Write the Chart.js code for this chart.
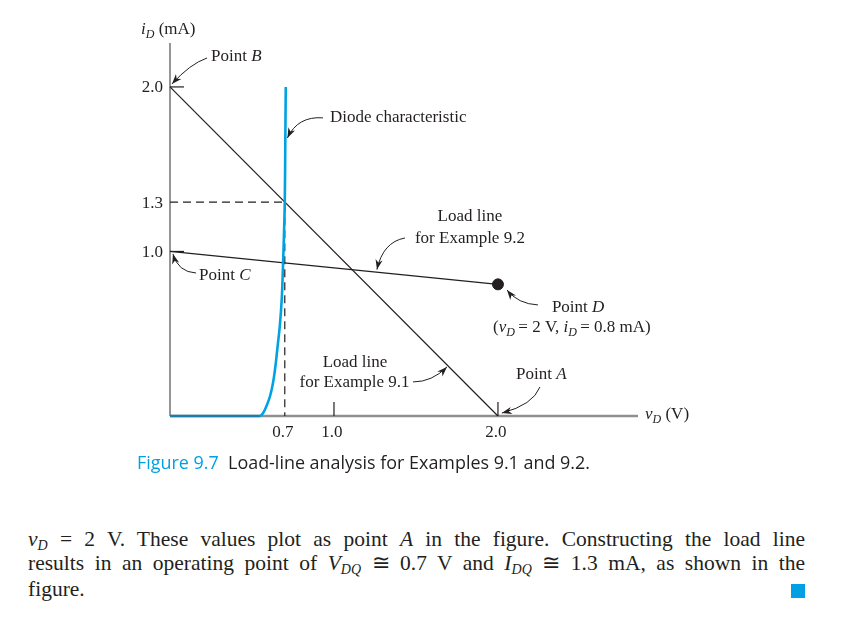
<!DOCTYPE html>
<html>
<head>
<meta charset="utf-8">
<script src="https://cdn.jsdelivr.net/npm/chart.js@4.4.1/dist/chart.umd.min.js"></script>
<style>
    html, body { margin: 0; padding: 0; background: #fff; }
    body {
        width: 844px; height: 622px; position: relative; overflow: hidden;
        font-family: "Liberation Serif", "Times New Roman", serif; color: #231f20;
    }
    #chart { position: absolute; left: 0; top: 0; }
    #caption {
        position: absolute; left: 137px; top: 451px;
        font-family: "Liberation Sans Narrow", "Open Sans", sans-serif;
        font-size: 18.5px; line-height: 22px; white-space: nowrap; transform-origin: 0 0;
    }
    #caption .fig { color: #00a0e3; }
    .body { position: absolute; left: 28px; font-size: 21.5px; line-height: 25px; white-space: nowrap; }
    sub { font-size: 14px; vertical-align: -4px; line-height: 0; }
    #mark { position: absolute; left: 791px; top: 584px; width: 14px; height: 14px; background: #00a0e3; }
</style>
</head>
<body>
<canvas id="chart" width="844" height="450"></canvas>

<div id="caption"><span class="fig">Figure 9.7</span>&nbsp; Load-line analysis for Examples 9.1 and 9.2.</div>

<div class="body fit" style="top:527px"><span><i>v</i><sub><i>D</i></sub> = 2 V. These values plot as point <i>A</i> in the figure. Constructing the load line</span></div>
<div class="body fit" style="top:551px"><span>results in an operating point of <i>V</i><sub><i>DQ</i></sub> ≅ 0.7 V and <i>I</i><sub><i>DQ</i></sub> ≅ 1.3 mA, as shown in the</span></div>
<div class="body" style="top:577px"><span>figure.</span></div>
<div id="mark"></div>

<script>
// ---- data ----
// diode characteristic (V, mA)
const diodeV = [0, 0.50, 0.548, 0.560, 0.572, 0.584, 0.596, 0.609, 0.621, 0.633, 0.645, 0.657, 0.670, 0.682, 0.688, 0.694, 0.700, 0.703, 0.706];
const diodeI = [0, 0, 0, 0.008, 0.025, 0.05, 0.08, 0.117, 0.165, 0.23, 0.32, 0.43, 0.55, 0.72, 0.88, 1.07, 1.30, 1.65, 2.0];

// load line, Example 9.1 (point B -> point A)
const load1V = [0, 2.0];
const load1I = [2.0, 0];

// load line, Example 9.2 (point C -> point D)
const load2V = [0, 2.0];
const load2I = [1.0, 0.8];

// operating point guide lines (dashed)
const qV = [0, 0.7, 0.7];
const qI = [1.3, 1.3, 0];

// point D
const pointDV = [2.0];
const pointDI = [0.8];

// ticks
const xTickValues = [0.7, 1.0, 2.0];
const xTickLabels = ['0.7', '1.0', '2.0'];
const xTickMarks = [1.0, 2.0];
const yTickValues = [2.0, 1.3, 1.0];
const yTickLabels = ['2.0', '1.3', '1.0'];
const yTickMarks = [2.0, 1.0];

const zip = (xs, ys) => xs.map((v, i) => ({ x: v, y: ys[i] }));

const INK = '#231f20';
const BLUE = '#00a2e2';
const SERIF = '"Liberation Serif", "Times New Roman", serif';

/**
 * Texte avec italique / indice sur le canvas
 */
function drawRich(ctx, parts, x, y, align) {
    const fontOf = p => `${p.it ? 'italic ' : ''}${p.sub ? 12 : 17}px ${SERIF}`;
    let w = 0;
    parts.forEach(p => { ctx.font = fontOf(p); w += ctx.measureText(p.t).width; });
    let cx = align === 'center' ? x - w / 2 : (align === 'right' ? x - w : x);
    ctx.textAlign = 'left';
    ctx.textBaseline = 'middle';
    parts.forEach(p => {
        ctx.font = fontOf(p);
        ctx.fillText(p.t, cx, p.sub ? y + 5 : y);
        cx += ctx.measureText(p.t).width;
    });
}

// axes, ticks, tick labels, axis titles
const axesPlugin = {
    id: 'axes',
    beforeDatasetsDraw(chart) {
        const { ctx, chartArea: a, scales: { x, y } } = chart;
        const x0 = x.getPixelForValue(0);
        const y0 = y.getPixelForValue(0);
        ctx.save();
        ctx.lineCap = 'butt';

        ctx.strokeStyle = '#5e5e5e';
        ctx.lineWidth = 1.3;
        ctx.beginPath(); ctx.moveTo(x0, a.top); ctx.lineTo(x0, y0); ctx.stroke();

        ctx.strokeStyle = '#8f8f8f';
        ctx.lineWidth = 2.5;
        ctx.beginPath(); ctx.moveTo(x0, y0); ctx.lineTo(a.right, y0); ctx.stroke();

        ctx.strokeStyle = INK;
        ctx.lineWidth = 1.2;
        yTickMarks.forEach(v => {
            const py = y.getPixelForValue(v);
            ctx.beginPath(); ctx.moveTo(x0, py); ctx.lineTo(x0 + 14, py); ctx.stroke();
        });
        xTickMarks.forEach(v => {
            const px = x.getPixelForValue(v);
            ctx.beginPath(); ctx.moveTo(px, y0); ctx.lineTo(px, y0 - 14); ctx.stroke();
        });

        ctx.fillStyle = INK;
        yTickValues.forEach((v, i) => drawRich(ctx, [{ t: yTickLabels[i] }], x0 - 7, y.getPixelForValue(v) + 1, 'right'));
        xTickValues.forEach((v, i) => drawRich(ctx, [{ t: xTickLabels[i] }], x.getPixelForValue(v) - 2, y0 + 17, 'center'));

        drawRich(ctx, [{ t: 'i', it: true }, { t: 'D', it: true, sub: true }, { t: ' (mA)' }], x0 - 29, a.top - 13, 'left');
        drawRich(ctx, [{ t: 'v', it: true }, { t: 'D', it: true, sub: true }, { t: ' (V)' }], a.right + 7, y0 - 1, 'left');
        ctx.restore();
    }
};

// callouts with curved arrows, positioned in data units
const callouts = [
    { lines: [{ parts: [{ t: 'Point ' }, { t: 'B', it: true }], at: [0.250, 2.185], align: 'left' }],
      arrow: [[0.226, 2.176], [0.122, 2.140], [0.012, 2.018]] },
    { lines: [{ parts: [{ t: 'Diode characteristic' }], at: [0.976, 1.812], align: 'left' }],
      arrow: [[0.933, 1.812], [0.780, 1.824], [0.716, 1.69]] },
    { lines: [{ parts: [{ t: 'Load line' }], at: [1.829, 1.215], align: 'center' },
              { parts: [{ t: 'for Example 9.2' }], at: [1.829, 1.078], align: 'center' }],
      arrow: [[1.433, 1.082], [1.299, 1.058], [1.262, 0.89]] },
    { lines: [{ parts: [{ t: 'Point ' }, { t: 'C', it: true }], at: [0.177, 0.855], align: 'left' }],
      arrow: [[0.159, 0.869], [0.049, 0.875], [0.018, 0.985]] },
    { lines: [{ parts: [{ t: 'Point ' }, { t: 'D', it: true }], at: [2.329, 0.657], align: 'left' },
              { parts: [{ t: '(' }, { t: 'v', it: true }, { t: 'D', it: true, sub: true }, { t: '\u2009= 2 V, ' },
                        { t: 'i', it: true }, { t: 'D', it: true, sub: true }, { t: '\u2009= 0.8 mA)' }],
                at: [1.970, 0.535], align: 'left' }],
      arrow: [[2.244, 0.675], [2.122, 0.681], [2.055, 0.766]] },
    { lines: [{ parts: [{ t: 'Load line' }], at: [1.128, 0.328], align: 'center' },
              { parts: [{ t: 'for Example 9.1' }], at: [1.125, 0.201], align: 'center' }],
      arrow: [[1.482, 0.207], [1.598, 0.207], [1.689, 0.298]] },
    { lines: [{ parts: [{ t: 'Point ' }, { t: 'A', it: true }], at: [2.110, 0.255], align: 'left' }],
      arrow: [[2.256, 0.176], [2.213, 0.067], [2.024, 0.018]] }
];

const calloutPlugin = {
    id: 'callouts',
    afterDatasetsDraw(chart) {
        const { ctx, scales: { x, y } } = chart;
        const P = d => [x.getPixelForValue(d[0]), y.getPixelForValue(d[1])];
        ctx.save();
        ctx.fillStyle = INK;
        ctx.strokeStyle = INK;
        callouts.forEach(c => {
            c.lines.forEach(l => {
                const [px, py] = P(l.at);
                drawRich(ctx, l.parts, px, py, l.align);
            });
            const [s, k, t] = c.arrow.map(P);
            ctx.lineWidth = 1;
            ctx.beginPath();
            ctx.moveTo(s[0], s[1]);
            ctx.quadraticCurveTo(k[0], k[1], t[0], t[1]);
            ctx.stroke();
            const ang = Math.atan2(t[1] - k[1], t[0] - k[0]);
            ctx.beginPath();
            ctx.moveTo(t[0], t[1]);
            ctx.lineTo(t[0] - 10 * Math.cos(ang) + 3.6 * Math.sin(ang), t[1] - 10 * Math.sin(ang) - 3.6 * Math.cos(ang));
            ctx.lineTo(t[0] - 7 * Math.cos(ang), t[1] - 7 * Math.sin(ang));
            ctx.lineTo(t[0] - 10 * Math.cos(ang) - 3.6 * Math.sin(ang), t[1] - 10 * Math.sin(ang) + 3.6 * Math.cos(ang));
            ctx.closePath();
            ctx.fill();
        });
        ctx.restore();
    }
};

new Chart(document.getElementById('chart'), {
    type: 'scatter',
    data: {
        datasets: [
            {
                label: 'Diode characteristic',
                data: zip(diodeV, diodeI),
                showLine: true,
                borderColor: BLUE,
                borderWidth: 2.6,
                tension: 0.3,
                pointRadius: 0,
                clip: false,
                segment: {
                    borderColor: s => (s.p0.parsed.y === 0 && s.p1.parsed.y === 0 ? '#1c7ea6' : BLUE)
                }
            },
            {
                label: 'Point D',
                data: zip(pointDV, pointDI),
                pointRadius: 5.5,
                pointBackgroundColor: INK,
                pointBorderColor: INK,
                clip: false
            },
            {
                label: 'Load line 9.2',
                data: zip(load2V, load2I),
                showLine: true,
                borderColor: INK,
                borderWidth: 1.2,
                pointRadius: 0,
                clip: false
            },
            {
                label: 'Load line 9.1',
                data: zip(load1V, load1I),
                showLine: true,
                borderColor: INK,
                borderWidth: 1.2,
                pointRadius: 0,
                clip: false
            },
            {
                label: 'Q',
                data: zip(qV, qI),
                showLine: true,
                borderColor: INK,
                borderWidth: 1.2,
                borderDash: [8, 5],
                pointRadius: 0,
                clip: false
            }
        ]
    },
    options: {
        responsive: false,
        animation: false,
        devicePixelRatio: 1,
        layout: { padding: { left: 170, right: 206, top: 43, bottom: 34 } },
        scales: {
            x: { type: 'linear', min: 0, max: 2.854, display: false },
            y: { type: 'linear', min: 0, max: 2.267, display: false }
        },
        plugins: { legend: { display: false }, tooltip: { enabled: false } }
    },
    plugins: [axesPlugin, calloutPlugin]
});

// caption width and justified text lines
const cap = document.getElementById('caption');
const capW = cap.getBoundingClientRect().width;
cap.style.transform = `scaleX(${453 / capW})`;

document.querySelectorAll('.fit').forEach(el => {
    const span = el.firstElementChild;
    const w = span.getBoundingClientRect().width;
    const spaces = (span.textContent.match(/ /g) || []).length;
    span.style.wordSpacing = ((777 - w) / spaces) + 'px';
});
</script>
</body>
</html>
